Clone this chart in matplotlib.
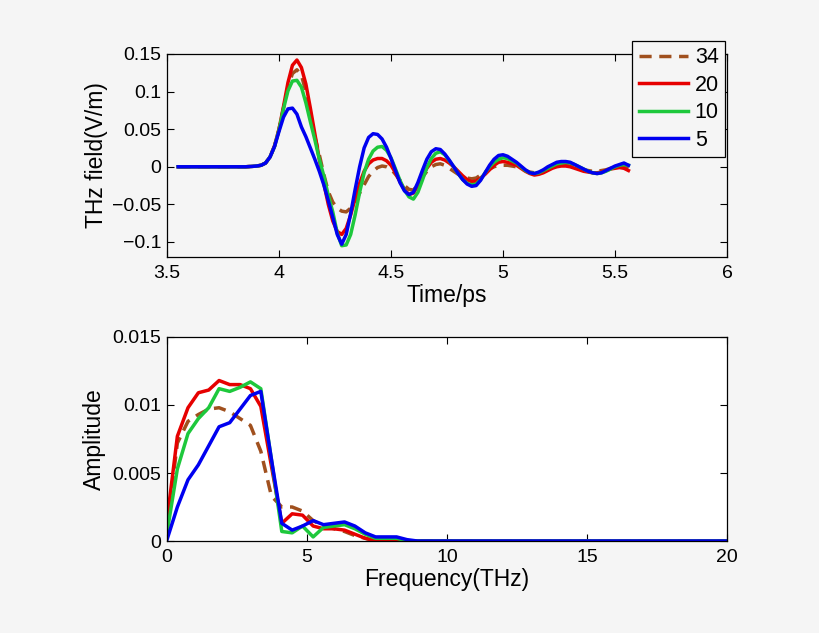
import matplotlib
matplotlib.use("Agg")
import matplotlib.pyplot as plt

plt.rcParams['font.family'] = ['Liberation Sans', 'DejaVu Sans']

labels = ["34", "20", "10", "5"]
colors = ["#a0501e", "#e60000", "#1ec83c", "#0000f0"]
styles = ["--", "-", "-", "-"]

time_ps = [3.55, 3.70, 3.85, 3.88,
           3.90, 3.92, 3.94, 3.96, 3.98, 4.00, 4.02, 4.04, 4.06, 4.08,
           4.10, 4.12, 4.14, 4.16, 4.18, 4.20, 4.22, 4.24, 4.26, 4.28,
           4.30, 4.32, 4.34, 4.36, 4.38, 4.40, 4.42, 4.44, 4.46, 4.48,
           4.50, 4.52, 4.54, 4.56, 4.58, 4.60, 4.62, 4.64, 4.66, 4.68,
           4.70, 4.72, 4.74, 4.76, 4.78, 4.80, 4.82, 4.84, 4.86, 4.88,
           4.90, 4.92, 4.94, 4.96, 4.98, 5.00, 5.02, 5.04, 5.06, 5.08,
           5.10, 5.12, 5.14, 5.16, 5.18, 5.20, 5.22, 5.24, 5.26, 5.28,
           5.30, 5.32, 5.34, 5.36, 5.38, 5.40, 5.42, 5.44, 5.46, 5.48,
           5.50, 5.52, 5.54, 5.56]

field_34 = [0, 0, 0, 0.0005,
            0.001, 0.002, 0.005, 0.013, 0.027, 0.050, 0.078, 0.106, 0.124, 0.129,
            0.122, 0.100, 0.070, 0.040, 0.016, -0.010, -0.033, -0.047, -0.055, -0.059,
            -0.060, -0.055, -0.046, -0.035, -0.024, -0.013, -0.006, -0.001, 0.001, 0.000,
            -0.003, -0.010, -0.018, -0.025, -0.030, -0.031, -0.024, -0.014, -0.006, 0.000,
            0.003, 0.004, 0.002, -0.002, -0.006, -0.010, -0.013, -0.015, -0.016, -0.015,
            -0.011, -0.007, -0.003, 0.000, 0.002, 0.002, 0.002, 0.001, 0.000, -0.002,
            -0.005, -0.007, -0.008, -0.007, -0.005, -0.003, -0.001, 0.001, 0.002, 0.002,
            0.001, -0.001, -0.003, -0.004, -0.005, -0.006, -0.006, -0.005, -0.004, -0.002,
            -0.001, 0.000, 0.000, -0.002]

field_20 = [0, 0, 0, 0.0005,
            0.001, 0.002, 0.005, 0.013, 0.028, 0.050, 0.080, 0.112, 0.135, 0.142,
            0.132, 0.110, 0.078, 0.044, 0.010, -0.022, -0.050, -0.072, -0.086, -0.090,
            -0.082, -0.064, -0.042, -0.022, -0.006, 0.004, 0.009, 0.011, 0.011, 0.008,
            0.002, -0.008, -0.020, -0.030, -0.037, -0.035, -0.025, -0.012, -0.002, 0.006,
            0.010, 0.011, 0.009, 0.005, 0.000, -0.006, -0.012, -0.017, -0.020, -0.019,
            -0.015, -0.010, -0.004, 0.002, 0.006, 0.007, 0.006, 0.004, 0.002, -0.002,
            -0.006, -0.009, -0.011, -0.010, -0.008, -0.005, -0.002, 0.000, 0.001, 0.001,
            0.000, -0.002, -0.004, -0.006, -0.007, -0.008, -0.008, -0.007, -0.005, -0.003,
            -0.002, -0.001, -0.002, -0.005]

field_10 = [0, 0, 0, 0.0005,
            0.001, 0.002, 0.005, 0.013, 0.027, 0.049, 0.077, 0.101, 0.114, 0.115,
            0.106, 0.085, 0.060, 0.036, 0.010, -0.012, -0.038, -0.060, -0.088, -0.105,
            -0.104, -0.090, -0.064, -0.034, -0.008, 0.010, 0.021, 0.026, 0.027, 0.022,
            0.012, -0.003, -0.018, -0.031, -0.040, -0.043, -0.034, -0.018, -0.001, 0.011,
            0.018, 0.020, 0.016, 0.008, 0.000, -0.009, -0.017, -0.022, -0.024, -0.023,
            -0.017, -0.008, 0.000, 0.006, 0.010, 0.012, 0.011, 0.008, 0.005, 0.000,
            -0.005, -0.008, -0.009, -0.008, -0.005, -0.002, 0.001, 0.004, 0.005, 0.006,
            0.005, 0.003, 0.000, -0.003, -0.006, -0.008, -0.009, -0.008, -0.006, -0.003,
            0.000, 0.002, 0.003, 0.002]

field_5 = [0, 0, 0, 0.0005,
           0.001, 0.002, 0.005, 0.013, 0.027, 0.047, 0.066, 0.077, 0.078, 0.070,
           0.053, 0.040, 0.025, 0.010, -0.006, -0.024, -0.045, -0.067, -0.090, -0.103,
           -0.090, -0.062, -0.030, 0.000, 0.025, 0.039, 0.044, 0.043, 0.037, 0.026,
           0.011, -0.005, -0.021, -0.032, -0.037, -0.034, -0.021, -0.005, 0.010, 0.020,
           0.024, 0.023, 0.017, 0.009, 0.000, -0.009, -0.017, -0.023, -0.026, -0.025,
           -0.018, -0.008, 0.002, 0.010, 0.015, 0.016, 0.014, 0.010, 0.006, 0.001,
           -0.004, -0.008, -0.009, -0.007, -0.004, 0.000, 0.003, 0.006, 0.007, 0.007,
           0.006, 0.003, 0.000, -0.003, -0.006, -0.008, -0.009, -0.008, -0.005, -0.002,
           0.001, 0.003, 0.005, 0.002]

freq_thz = [0, 0.37, 0.75, 1.12, 1.49, 1.86, 2.24, 2.61, 2.98, 3.35,
            3.73, 4.10, 4.47, 4.84, 5.22, 5.59, 5.96, 6.34, 6.71, 7.08,
            7.45, 7.83, 8.20, 8.57, 8.94, 9.32, 9.69, 20.0]

amp_34 = [0.0010, 0.0072, 0.0088, 0.0093, 0.0097, 0.0098, 0.0095, 0.0090, 0.0085, 0.0066,
          0.0033, 0.0025, 0.0025, 0.0022, 0.0015, 0.0011, 0.0009, 0.0007, 0.0004, 0.0002,
          0.0, 0.0, 0.0, 0.0, 0.0, 0.0, 0.0, 0.0]
amp_20 = [0.0015, 0.0077, 0.0098, 0.0109, 0.0111, 0.0118, 0.0115, 0.0115, 0.0112, 0.0099,
          0.0055, 0.0013, 0.0020, 0.0019, 0.0011, 0.0009, 0.0009, 0.0008, 0.0005, 0.0002,
          0.0, 0.0, 0.0, 0.0, 0.0, 0.0, 0.0, 0.0]
amp_10 = [0.0006, 0.0053, 0.0079, 0.0090, 0.0098, 0.0112, 0.0110, 0.0113, 0.0117, 0.0112,
          0.0060, 0.0007, 0.0006, 0.0011, 0.0003, 0.0010, 0.0011, 0.0012, 0.0009, 0.0005,
          0.0002, 0.0002, 0.0002, 0.0, 0.0, 0.0, 0.0, 0.0]
amp_5 = [0.0001, 0.0025, 0.0045, 0.0056, 0.0070, 0.0084, 0.0087, 0.0097, 0.0107, 0.0110,
         0.0060, 0.0013, 0.0008, 0.0011, 0.0015, 0.0012, 0.0013, 0.0014, 0.0011, 0.0006,
         0.0003, 0.0003, 0.0003, 0.0001, 0.0, 0.0, 0.0, 0.0]

time_xticks = [3.5, 4, 4.5, 5, 5.5, 6]
time_xticklabels = ["3.5", "4", "4.5", "5", "5.5", "6"]
field_yticks = [-0.1, -0.05, 0, 0.05, 0.1, 0.15]
field_yticklabels = ["\u22120.1", "\u22120.05", "0", "0.05", "0.1", "0.15"]
freq_xticks = [0, 5, 10, 15, 20]
freq_xticklabels = ["0", "5", "10", "15", "20"]
amp_yticks = [0, 0.005, 0.01, 0.015]
amp_yticklabels = ["0", "0.005", "0.01", "0.015"]

BG = "#f5f5f5"
W, H = 820, 633
fig = plt.figure(figsize=(W / 100, H / 100), dpi=100, facecolor=BG)

def ax_rect(x0, y0, x1, y1):
    return [x0 / W, 1 - y1 / H, (x1 - x0) / W, (y1 - y0) / H]

ax1 = fig.add_axes(ax_rect(167, 54, 727, 257), facecolor=BG)
ax2 = fig.add_axes(ax_rect(167, 337, 727, 541), facecolor="white")

fs_tick = 14
fs_label = 16.5
lw = 2.5
fields = [field_34, field_20, field_10, field_5]
amps = [amp_34, amp_20, amp_10, amp_5]

for lab, col, ls, y in zip(labels, colors, styles, fields):
    kw = dict(dashes=(3.5, 2.2)) if ls == "--" else {}
    ax1.plot(time_ps, y, color=col, lw=lw, linestyle=ls, label=lab,
             solid_joinstyle="round", **kw)
for lab, col, ls, y in zip(labels, colors, styles, amps):
    kw = dict(dashes=(3.5, 2.2)) if ls == "--" else {}
    ax2.plot(freq_thz, y, color=col, lw=lw, linestyle=ls, label=lab,
             solid_joinstyle="round", **kw)

ax1.set_xlim(3.5, 6)
ax1.set_ylim(-0.12, 0.15)
ax1.set_xticks(time_xticks)
ax1.set_xticklabels(time_xticklabels)
ax1.set_yticks(field_yticks)
ax1.set_yticklabels(field_yticklabels)
ax1.set_xlabel("Time/ps", fontsize=fs_label, labelpad=1)
ax1.set_ylabel("THz field(V/m)", fontsize=fs_label, labelpad=3)

ax2.set_xlim(0, 20)
ax2.set_ylim(0, 0.015)
ax2.set_xticks(freq_xticks)
ax2.set_xticklabels(freq_xticklabels)
ax2.set_yticks(amp_yticks)
ax2.set_yticklabels(amp_yticklabels)
ax2.set_xlabel("Frequency(THz)", fontsize=fs_label, labelpad=1)
ax2.set_ylabel("Amplitude", fontsize=fs_label, labelpad=5)

for ax in (ax1, ax2):
    ax.tick_params(direction="in", length=5, width=0.8, top=True, right=True,
                   labelsize=fs_tick, pad=4, colors="black")
    ax.tick_params(axis="x", pad=6)
    for s in ax.spines.values():
        s.set_linewidth(0.9)
        s.set_color("black")

leg = ax1.legend(loc="upper right", bbox_to_anchor=(0.997, 1.064), fontsize=15.5,
                 frameon=True, fancybox=False, edgecolor="black", facecolor=BG,
                 framealpha=1, handlelength=2.3, handletextpad=0.3,
                 labelspacing=0.3, borderpad=0.3, borderaxespad=0)
leg.get_frame().set_linewidth(0.9)

fig.savefig("out.png", dpi=100, facecolor=BG)
